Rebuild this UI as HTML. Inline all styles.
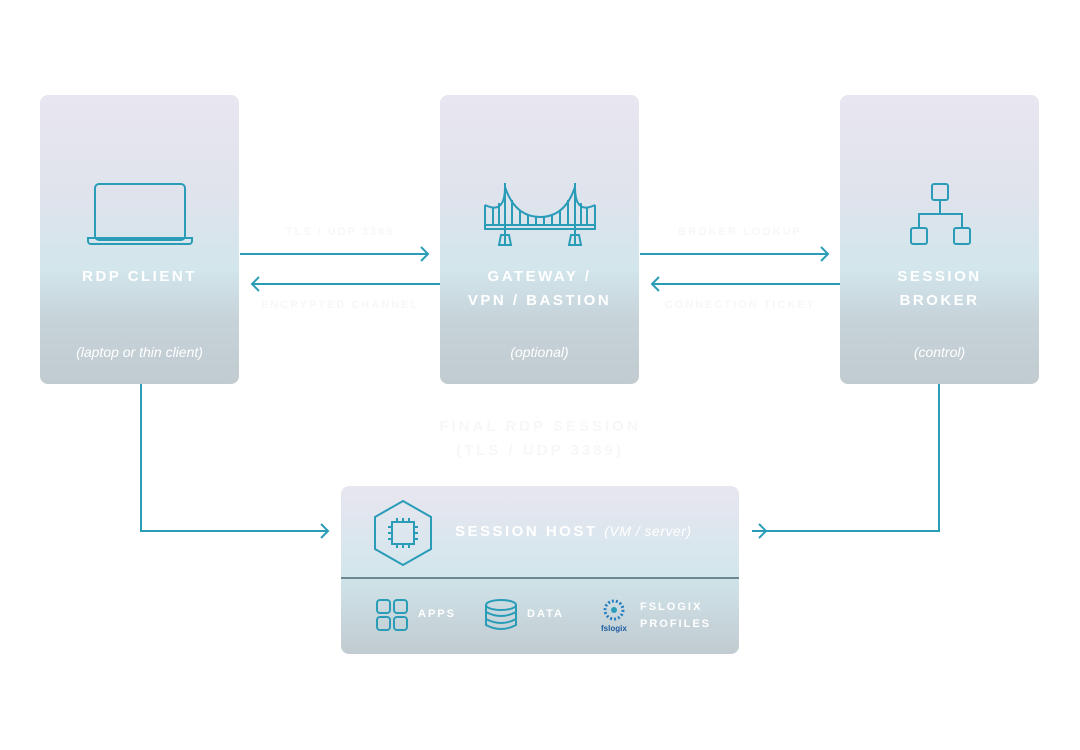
<!DOCTYPE html><html><head><style>
body{margin:0;width:1080px;height:750px;background:#fff;position:relative;overflow:hidden;font-family:"Liberation Sans",sans-serif}
.card{position:absolute;border-radius:8px;background:linear-gradient(#e8e6f0 0%,#dfe3ec 35%,#d2e6ec 60%,#c6d3d9 78%,#c1cbd0 100%)}
.t{position:absolute;color:#fff;font-weight:bold;letter-spacing:2.5px;font-size:15px;text-align:center;width:100%}
.s{position:absolute;color:#fff;font-style:italic;font-size:14px;text-align:center;width:100%}
.l{position:absolute;color:#f7f7f7;font-weight:bold;font-size:11px;letter-spacing:2px;text-align:center}
</style></head><body>
<div class="card" style="left:40px;top:95px;width:199px;height:289px">
<div class="t" style="top:173px">RDP CLIENT</div><div class="s" style="top:249px">(laptop or thin client)</div></div>
<div class="card" style="left:440px;top:95px;width:199px;height:289px">
<div class="t" style="top:170px;line-height:24px">GATEWAY /<br>VPN / BASTION</div><div class="s" style="top:249px">(optional)</div></div>
<div class="card" style="left:840px;top:95px;width:199px;height:289px">
<div class="t" style="top:170px;line-height:24px">SESSION<br>BROKER</div><div class="s" style="top:249px">(control)</div></div>
<div style="position:absolute;left:341px;top:486px;width:398px;height:168px;border-radius:8px;overflow:hidden">
<div style="height:91px;background:linear-gradient(#e8e6f0,#d2e6ec)"></div>
<div style="height:2px;background:#6e8690"></div>
<div style="height:75px;background:linear-gradient(#cfe3e9,#c1cbd0)"></div></div>
<div style="position:absolute;left:455px;top:523px;color:#fff;font-weight:bold;font-size:15px;letter-spacing:2.5px">SESSION HOST <span style="font-weight:normal;font-style:italic;letter-spacing:0.5px;font-size:14px">(VM / server)</span></div>
<div style="position:absolute;left:418px;top:608px;color:#fff;font-weight:bold;font-size:11px;letter-spacing:2px">APPS</div>
<div style="position:absolute;left:527px;top:608px;color:#fff;font-weight:bold;font-size:11px;letter-spacing:2px">DATA</div>
<div style="position:absolute;left:640px;top:599px;color:#fff;font-weight:bold;font-size:11px;letter-spacing:2px;line-height:17px">FSLOGIX<br>PROFILES</div>
<div class="l" style="left:240px;top:226px;width:200px">TLS / UDP 3389</div>
<div class="l" style="left:240px;top:299px;width:200px">ENCRYPTED CHANNEL</div>
<div class="l" style="left:640px;top:226px;width:200px">BROKER LOOKUP</div>
<div class="l" style="left:640px;top:299px;width:200px">CONNECTION TICKET</div>
<div class="l" style="left:400px;top:415px;width:280px;font-size:15px;letter-spacing:3px;line-height:24px">FINAL RDP SESSION<br>(TLS / UDP 3389)</div>
<svg width="1080" height="750" style="position:absolute;left:0;top:0" fill="none" stroke="#2a9cb8" stroke-width="2">
<path d="M240 254H428M421 247l7 7-7 7"/><path d="M440 284H252M259 277l-7 7 7 7"/>
<path d="M640 254H828M821 247l7 7-7 7"/><path d="M840 284H652M659 277l-7 7 7 7"/>
<path d="M141 384V531H328M321 524l7 7-7 7"/><path d="M939 384V531H752M759 524l7 7-7 7"/>
<g stroke="#2a9cb8" stroke-width="2">
<rect x="95" y="184" width="90" height="56" rx="4"/><path d="M88 238h104v3a3 3 0 0 1-3 3H91a3 3 0 0 1-3-3z"/>
<path d="M485 205v20h110v-20M485 225v4h110v-4M505 183v62M575 183v62M485 205q20 10 20-18q10 30 35 30q25 0 35-30q0 28 20 18"/>
<path d="M493 207v18M499 203v22M512 200v25M520 210v15M528 214v11M536 216v9M544 216v9M552 214v11M560 210v15M568 200v25M581 203v22M587 207v18"/>
<path d="M499 245h12l-2-10h-8zM569 245h12l-2-10h-8z"/>
<rect x="932" y="184" width="16" height="16" rx="2"/><rect x="911" y="228" width="16" height="16" rx="2"/><rect x="954" y="228" width="16" height="16" rx="2"/>
<path d="M940 200v14M919 228v-14h43v14"/>
<path d="M403 501l28 16v32l-28 16-28-16v-32z"/><rect x="392" y="522" width="22" height="22"/>
<path d="M397 518v4M403 518v4M409 518v4M397 544v4M403 544v4M409 544v4M388 527h4M388 533h4M388 539h4M414 527h4M414 533h4M414 539h4"/>
<rect x="377" y="600" width="13" height="13" rx="3"/><rect x="394" y="600" width="13" height="13" rx="3"/><rect x="377" y="617" width="13" height="13" rx="3"/><rect x="394" y="617" width="13" height="13" rx="3"/>
<ellipse cx="501" cy="605" rx="15" ry="5"/><path d="M486 605v20q15 8 30 0v-20M486 612q15 8 30 0M486 619q15 8 30 0"/>
</g>
<circle cx="614" cy="610" r="9" stroke="#2a7fc0" stroke-width="3" stroke-dasharray="2 2"/><circle cx="614" cy="610" r="3" fill="#2a9cb8" stroke="none"/>
<text x="601" y="631" fill="#1c5a9e" stroke="none" font-size="8" font-weight="bold" font-family="Liberation Sans">fslogix</text>
</svg>
</body></html>
